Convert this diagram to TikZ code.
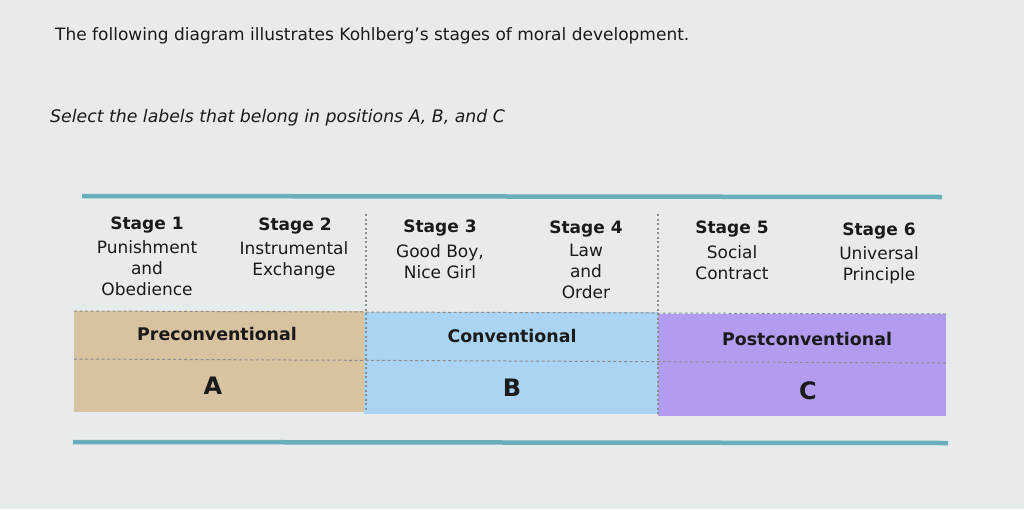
\documentclass[tikz,border=0pt]{standalone}
\usepackage{fontspec}
\setmainfont{DejaVu Sans}
\definecolor{bg}{HTML}{E8EBEB}
\definecolor{teal}{HTML}{6AAEBC}
\definecolor{tan}{HTML}{D8C3A0}
\definecolor{sky}{HTML}{A9D4F2}
\definecolor{lav}{HTML}{B39CF0}
\definecolor{ink}{HTML}{1A1A1A}
\definecolor{sep}{HTML}{8C8C8C}
\begin{document}
\begin{tikzpicture}[x=1pt,y=-1pt,
  every node/.style={inner sep=0pt,text=ink},
  stagehead/.style={font=\bfseries\fontsize{17}{21}\selectfont,anchor=base},
  stagedesc/.style={font=\fontsize{17}{21}\selectfont,align=center,anchor=north},
  levellabel/.style={font=\bfseries\fontsize{17.4}{21}\selectfont},
  letterlabel/.style={font=\bfseries\fontsize{24}{28}\selectfont},
  rule/.style={draw=teal,line width=4.5pt},
  dashline/.style={draw=sep,dash pattern=on 3pt off 2.5pt,line width=1pt},
  dotline/.style={draw=sep,dash pattern=on 2pt off 2.5pt,line width=1.2pt}]
\useasboundingbox (0,0) rectangle (1024,509);
\fill[bg] (0,0) rectangle (1024,509);
% texts
\node[anchor=base west,font=\fontsize{17}{20}\selectfont] (title) at (55,40) {The following diagram illustrates Kohlberg’s stages of moral development.};
\node[anchor=base west,font=\itshape\fontsize{17.3}{20}\selectfont] (prompt) at (50,122) {Select the labels that belong in positions A, B, and C};
% rules
\coordinate (t1) at (82,196); \coordinate (t2) at (942,197);
\coordinate (b1) at (73,442); \coordinate (b2) at (948,443);
\draw[rule] (t1) -- (t2);
\draw[rule] (b1) -- (b2);
% boxes
\fill[tan] (74,311) rectangle (364,412);
\fill[sky] (364,312) rectangle (658,414);
\fill[lav] (658,314) rectangle (946,416);
\coordinate (d1) at (74,311); \coordinate (d2) at (946,314);
\coordinate (m1) at (74,359); \coordinate (m2) at (946,363);
\draw[dashline] (d1) -- (d2);
\draw[dashline] (m1) -- (m2);
\coordinate (s1a) at (366,214); \coordinate (s1b) at (366,412);
\coordinate (s2a) at (658,214); \coordinate (s2b) at (658,414);
\draw[dotline] (s1a) -- (s1b);
\draw[dotline] (s2a) -- (s2b);
% stage headers
\node[stagehead] (h1) at (147,229) {Stage 1};
\node[stagehead] (h2) at (295,230) {Stage 2};
\node[stagehead] (h3) at (440,232) {Stage 3};
\node[stagehead] (h4) at (586,233) {Stage 4};
\node[stagehead] (h5) at (732,233) {Stage 5};
\node[stagehead] (h6) at (879,235) {Stage 6};
\node[stagedesc] (p1) at (147,240) {Punishment\\and\\Obedience};
\node[stagedesc] (p2) at (294,241) {Instrumental\\Exchange};
\node[stagedesc] (p3) at (440,244) {Good Boy,\\Nice Girl};
\node[stagedesc] (p4) at (586,244) {Law\\and\\Order};
\node[stagedesc] (p5) at (732,245) {Social\\Contract};
\node[stagedesc] (p6) at (879,246) {Universal\\Principle};
% level labels
\node[levellabel] (l1) at (217,334) {Preconventional};
\node[levellabel] (l2) at (512,336) {Conventional};
\node[levellabel] (l3) at (807,339) {Postconventional};
\node[letterlabel] (A) at (213,386) {A};
\node[letterlabel] (B) at (512,388) {B};
\node[letterlabel] (C) at (808,391) {C};
\end{tikzpicture}
\end{document}
